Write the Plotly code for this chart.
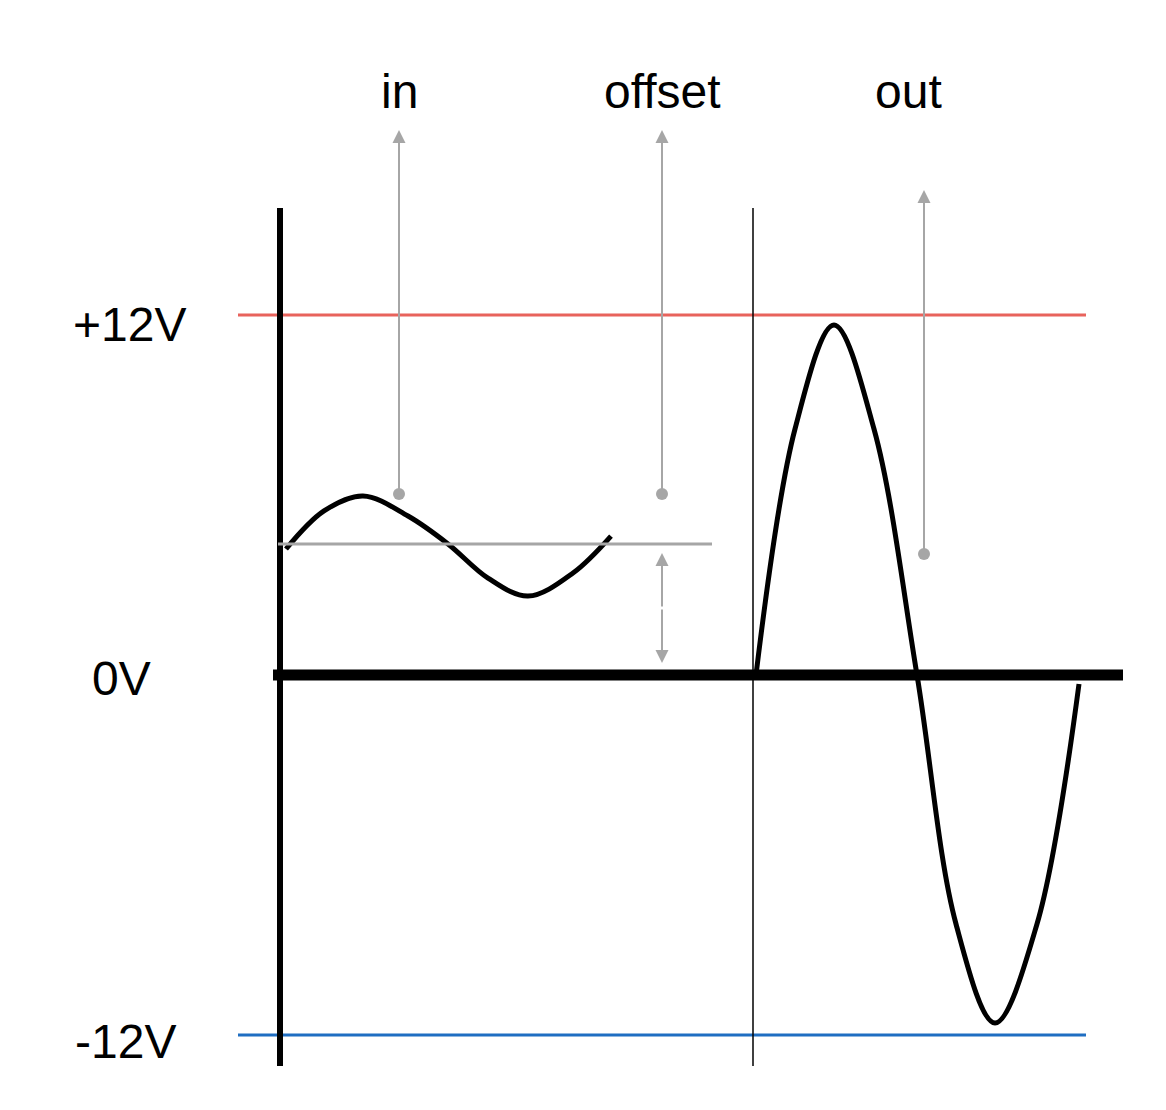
import plotly.graph_objects as go

# Data (time in px units, voltage in V)
in_t = [278, 316, 355, 400, 440, 480, 520, 565, 603]
in_v = [4.2, 5.47, 5.97, 5.3, 4.37, 3.23, 2.63, 3.4, 4.63]
out_t = [748, 787, 826, 866, 909, 948, 987, 1029, 1071]
out_v = [0.0, 8.2, 11.67, 8.2, 0.0, -8.3, -11.6, -8.3, -0.3]
offset_v = 4.37
rails = [12, 0, -12]
rail_labels = ["+12V", "0V", "-12V"]
top_labels = ["in", "offset", "out"]

Y0, S = 667, 30.0
def v(p):  # pixel -> volt
    return (Y0 - p) / S

FONT = "Liberation Sans"
GRAY = "#a6a6a6"
fig = go.Figure()
fig.add_trace(go.Scatter(x=in_t, y=in_v, mode="lines", line=dict(color="black", width=5, shape="spline")))
fig.add_trace(go.Scatter(x=out_t, y=out_v, mode="lines", line=dict(color="black", width=5, shape="spline")))

shapes = [
    dict(type="line", x0=230, x1=1078, y0=rails[0], y1=rails[0], line=dict(color="#e8635c", width=3)),
    dict(type="line", x0=230, x1=1078, y0=rails[2], y1=rails[2], line=dict(color="#1f6ec2", width=3)),
    dict(type="line", x0=265, x1=1115, y0=rails[1], y1=rails[1], line=dict(color="black", width=11)),
    dict(type="line", x0=272, x1=272, y0=v(200), y1=v(1058), line=dict(color="black", width=6)),
    dict(type="line", x0=745, x1=745, y0=v(200), y1=v(1058), line=dict(color="black", width=1.5)),
    dict(type="line", x0=270, x1=704, y0=offset_v, y1=offset_v, line=dict(color=GRAY, width=3)),
]
annotations = []
def arrow(x, y_from, y_to):
    annotations.append(dict(x=x, y=v(y_to), ax=x, ay=v(y_from), xref="x", yref="y", axref="x", ayref="y",
                            showarrow=True, arrowhead=2, arrowsize=1.3, arrowwidth=2, arrowcolor=GRAY, text=""))
arrow(391, 486, 122)
arrow(654, 486, 122)
arrow(916, 546, 182)
arrow(654, 600, 545)
arrow(654, 600, 655)
fig.add_trace(go.Scatter(x=[391, 654, 916], y=[v(486), v(486), v(546)], mode="markers",
                         marker=dict(color=GRAY, size=12)))
for t, x in zip(top_labels, [391, 654, 900]):
    annotations.append(dict(x=x, y=v(83), text=t, showarrow=False, font=dict(size=48, family=FONT, color="black")))
for lab, r, x, yp in zip(rail_labels, rails, [180, 145, 170], [316, 670, 1033]):
    annotations.append(dict(x=x, y=v(yp), text=lab, showarrow=False, xanchor="right",
                            font=dict(size=48, family=FONT, color="black")))

fig.update_layout(width=1166, height=1110, margin=dict(l=0, r=0, t=0, b=0),
                  plot_bgcolor="white", paper_bgcolor="white", showlegend=False,
                  shapes=shapes, annotations=annotations)
fig.update_xaxes(range=[0, 1166], visible=False)
fig.update_yaxes(range=[v(1110), v(0)], visible=False)
fig.write_html("out.html")
